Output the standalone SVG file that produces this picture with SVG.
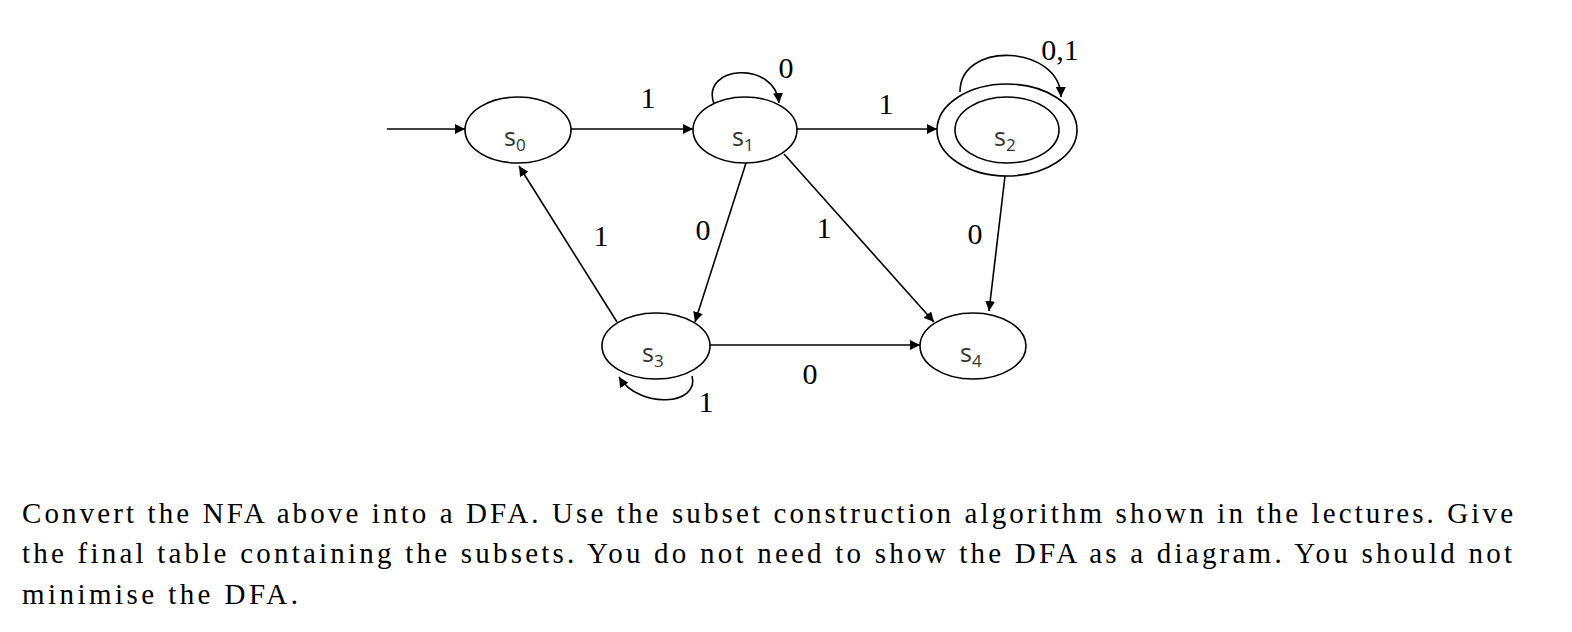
<svg xmlns="http://www.w3.org/2000/svg" width="1572" height="632" viewBox="0 0 1572 632">
<style>
.n{fill:#fff;stroke:#000;stroke-width:1.6}
.e{fill:none;stroke:#000;stroke-width:1.6}
.nl{font-family:"Open Sans","DejaVu Sans",sans-serif;font-size:25px;fill:#333}
.sub{font-size:17px}
.el{font-family:"Liberation Serif",serif;font-size:30px;text-anchor:middle}
.q{font-family:"Liberation Serif",serif;font-size:29px}
</style>
<defs><marker id="a" viewBox="0 0 10 10" refX="10" refY="5" markerWidth="10" markerHeight="10" markerUnits="userSpaceOnUse" orient="auto"><path d="M0,0L10,5L0,10z"/></marker></defs>
<g id="edges">
<path class="e" d="M387,129H465" marker-end="url(#a)"/>
<path class="e" d="M571,129H693" marker-end="url(#a)"/>
<path class="e" d="M797,129H937" marker-end="url(#a)"/>
<path class="e" d="M746,163L695,322" marker-end="url(#a)"/>
<path class="e" d="M784,154L934,322" marker-end="url(#a)"/>
<path class="e" d="M1005,176L989,311" marker-end="url(#a)"/>
<path class="e" d="M617,322L519,166" marker-end="url(#a)"/>
<path class="e" d="M710,345H920" marker-end="url(#a)"/>
<path class="e" d="M714,104C700,65 775,60 779,103" marker-end="url(#a)"/>
<path class="e" d="M960,92C960,40 1060,45 1061,97" marker-end="url(#a)"/>
<path class="e" d="M692,376C700,405 640,410 619,377" marker-end="url(#a)"/>
</g>
<g id="s0"><ellipse class="n" cx="518" cy="130" rx="53" ry="33"/><text class="nl" x="504" y="146">s<tspan class="sub" dy="5">0</tspan></text></g>
<g id="s1"><ellipse class="n" cx="745" cy="130" rx="52" ry="33"/><text class="nl" x="732" y="146">s<tspan class="sub" dy="5">1</tspan></text></g>
<g id="s2"><ellipse class="n" cx="1007" cy="130" rx="70" ry="46"/><ellipse class="n" cx="1007" cy="130" rx="52" ry="33"/><text class="nl" x="994" y="146">s<tspan class="sub" dy="5">2</tspan></text></g>
<g id="s3"><ellipse class="n" cx="656" cy="346" rx="54" ry="33"/><text class="nl" x="642" y="362">s<tspan class="sub" dy="5">3</tspan></text></g>
<g id="s4"><ellipse class="n" cx="973" cy="346" rx="53" ry="33"/><text class="nl" x="960" y="362">s<tspan class="sub" dy="5">4</tspan></text></g>
<g id="labels">
<text class="el" x="648" y="108">1</text>
<text class="el" x="786" y="78">0</text>
<text class="el" x="886" y="114">1</text>
<text class="el" x="1060" y="60">0,1</text>
<text class="el" x="601" y="246">1</text>
<text class="el" x="703" y="240">0</text>
<text class="el" x="824" y="238">1</text>
<text class="el" x="975" y="244">0</text>
<text class="el" x="810" y="384">0</text>
<text class="el" x="706" y="412">1</text>
</g>
<g id="question">
<text class="q" x="22" y="523" textLength="1491" lengthAdjust="spacing">Convert the NFA above into a DFA. Use the subset construction algorithm shown in the lectures. Give</text>
<text class="q" x="22" y="563" textLength="1490" lengthAdjust="spacing">the final table containing the subsets. You do not need to show the DFA as a diagram. You should not</text>
<text class="q" x="22" y="604" textLength="276" lengthAdjust="spacing">minimise the DFA.</text>
</g>
</svg>
